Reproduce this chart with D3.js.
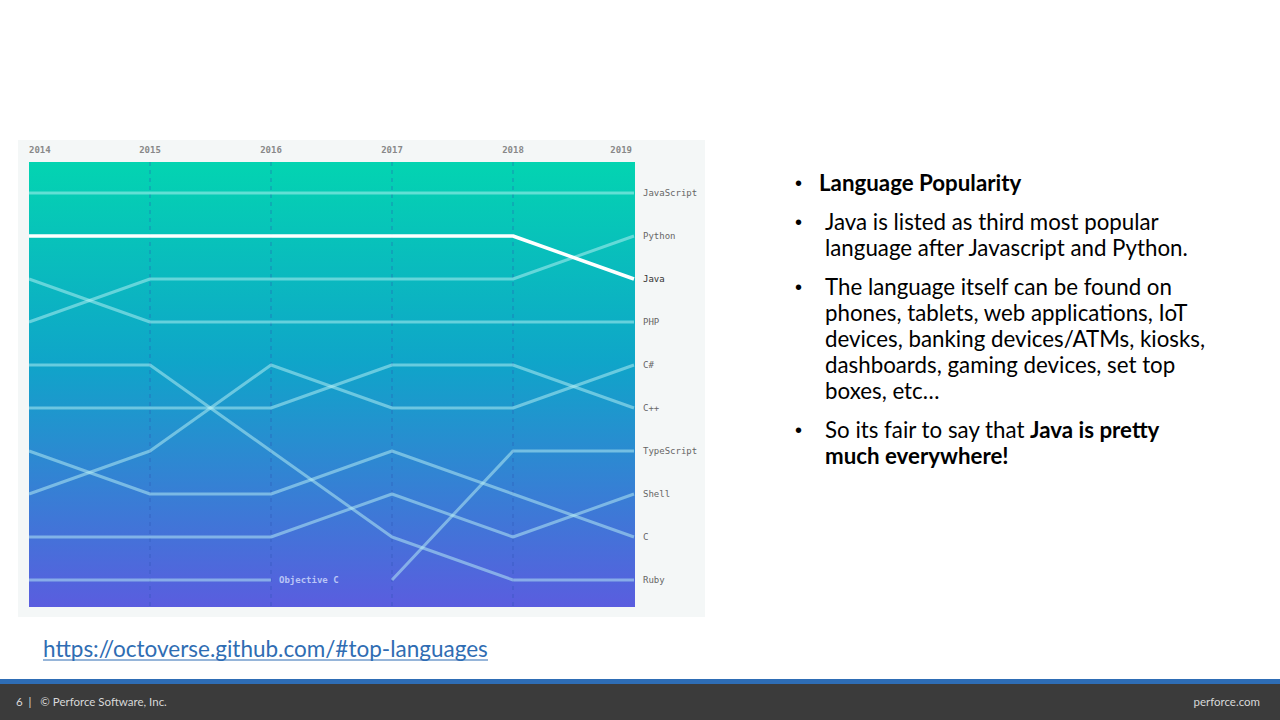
<!DOCTYPE html>
<html><head><meta charset="utf-8">
<script src="https://cdn.jsdelivr.net/npm/d3@7"></script>
<style>html,body{margin:0;padding:0;background:#fff;}svg{display:block;}</style>
</head><body>
<svg id="c" width="1280" height="720"></svg>
<script>
const years = [2014, 2015, 2016, 2017, 2018, 2019];
const languages = ["JavaScript","Java","Python","PHP","C#","C++","TypeScript","Shell","C","Ruby","Objective C"];
const rankJavaScript = [1,1,1,1,1,1];
const rankJava = [2,2,2,2,2,3];
const rankPython = [4,3,3,3,3,2];
const rankPHP = [3,4,4,4,4,4];
const rankCSharp = [8,7,5,6,6,5];
const rankCpp = [6,6,6,5,5,6];
const rankTypeScript = [null,null,null,10,7,7];
const rankShell = [9,9,9,8,9,8];
const rankC = [7,8,8,7,8,9];
const rankRuby = [5,5,7,9,10,10];
const rankObjectiveC = [10,10,10,null,null,null];
const rankTicks = [1,2,3,4,5,6,7,8,9,10];

const series = [
  {name:"JavaScript", r:rankJavaScript},
  {name:"Python", r:rankPython},
  {name:"PHP", r:rankPHP},
  {name:"C#", r:rankCSharp},
  {name:"C++", r:rankCpp},
  {name:"TypeScript", r:rankTypeScript},
  {name:"Shell", r:rankShell},
  {name:"C", r:rankC},
  {name:"Ruby", r:rankRuby},
  {name:"Objective C", r:rankObjectiveC},
  {name:"Java", r:rankJava, hl:true}
];

const svg = d3.select("#c");
const P = {l:29, r:635, t:162, b:607};
const x = d3.scalePoint().domain(years).range([P.l, 634]);
const y = d3.scaleLinear().domain([1,10]).range([193, 580]);

// panel
svg.append("rect").attr("x",18).attr("y",140).attr("width",687).attr("height",477).attr("fill","#f4f7f7");

const defs = svg.append("defs");
const g = defs.append("linearGradient").attr("id","bg").attr("x1",0).attr("y1",0).attr("x2",0).attr("y2",1);
g.append("stop").attr("offset","0%").attr("stop-color","#03d4b1");
g.append("stop").attr("offset","45%").attr("stop-color","#0fa5c9");
g.append("stop").attr("offset","100%").attr("stop-color","#5a5ddf");
svg.append("rect").attr("x",P.l).attr("y",P.t).attr("width",P.r-P.l).attr("height",P.b-P.t).attr("fill","url(#bg)");

// dashed year guides
svg.selectAll("line.grid").data(years.slice(1,5)).join("line")
  .attr("x1",d=>x(d)).attr("x2",d=>x(d)).attr("y1",P.t).attr("y2",P.b)
  .attr("stroke","#2a4fb0").attr("stroke-opacity",0.4).attr("stroke-width",1.2).attr("stroke-dasharray","4,4");

// year labels
svg.selectAll("text.yr").data(years).join("text")
  .attr("x",(d,i)=> i===0 ? P.l : (i===years.length-1 ? 632 : x(d)))
  .attr("y",153)
  .attr("text-anchor",(d,i)=> i===0 ? "start" : (i===years.length-1 ? "end" : "middle"))
  .attr("font-family","DejaVu Sans Mono").attr("font-size",9).attr("font-weight","bold")
  .attr("fill","#888").text(d=>d);

const line = d3.line().defined(d=>d.r!=null).x(d=>x(d.yr)).y(d=>y(d.r));
series.forEach(s=>{
  const pts = years.map((yr,i)=>({yr, r:s.r[i]}));
  svg.append("path").datum(pts).attr("d",line).attr("fill","none")
    .attr("stroke", s.hl ? "#ffffff" : "#bdf3f5")
    .attr("stroke-opacity", s.hl ? 1 : 0.5)
    .attr("stroke-width", s.hl ? 3.5 : 3)
    .attr("stroke-linejoin","round");
});

// right labels for 2019 ranks
const last = years.length-1;
series.filter(s=>s.r[last]!=null).forEach(s=>{
  svg.append("text").attr("x",643).attr("y",y(s.r[last])+3)
    .attr("font-family","DejaVu Sans Mono").attr("font-size",9)
    .attr("fill", s.hl ? "#333" : "#666").text(s.name);
});
// Objective C end label
const oc = series.find(s=>s.name==="Objective C");
let li = 0; oc.r.forEach((v,i)=>{ if(v!=null) li=i; });
svg.append("text").attr("x",x(years[li])+8).attr("y",y(oc.r[li])+3)
  .attr("font-family","DejaVu Sans Mono").attr("font-size",9).attr("font-weight","bold")
  .attr("fill","#dfe6ff").attr("fill-opacity",0.75).text("Objective C");

// link
svg.append("text").attr("x",43).attr("y",657).attr("font-family","Lato").attr("font-size",22.5)
  .attr("fill","#2f6db3").text("https://octoverse.github.com/#top-languages");
svg.append("line").attr("x1",43).attr("x2",488).attr("y1",660).attr("y2",660).attr("stroke","#2f6db3").attr("stroke-width",1.2);

// bullets
const tf = "Lato";
function bullet(yy){ svg.append("text").attr("x",795).attr("y",yy).attr("font-family","Liberation Sans").attr("font-size",20).attr("fill","#000").text("•"); }
const fs = 22.3;
bullet(190);
svg.append("text").attr("x",819).attr("y",191).attr("font-family",tf).attr("font-size",fs).attr("font-weight","bold").text("Language Popularity");
const blocks = [
  {y:230, lines:[["Java is listed as third most popular"],["language after Javascript and Python."]]},
  {y:295, lines:[["The language itself can be found on"],["phones, tablets, web applications, IoT"],["devices, banking devices/ATMs, kiosks,"],["dashboards, gaming devices, set top"],["boxes, etc…"]]},
];
blocks.forEach(b=>{
  bullet(b.y-1);
  b.lines.forEach((l,i)=>{
    svg.append("text").attr("x",825).attr("y",b.y+i*26).attr("font-family",tf).attr("font-size",fs).attr("fill","#000").text(l[0]);
  });
});
bullet(437);
const t1 = svg.append("text").attr("x",825).attr("y",438).attr("font-family",tf).attr("font-size",fs).attr("fill","#000");
t1.append("tspan").text("So its fair to say that ");
t1.append("tspan").attr("font-weight","bold").text("Java is pretty");
svg.append("text").attr("x",825).attr("y",464).attr("font-family",tf).attr("font-size",fs).attr("font-weight","bold").text("much everywhere!");

// footer
svg.append("rect").attr("x",0).attr("y",679).attr("width",1280).attr("height",5).attr("fill","#2e6db5");
svg.append("rect").attr("x",0).attr("y",684).attr("width",1280).attr("height",36).attr("fill","#3b3b3b");
svg.append("text").attr("x",16).attr("y",706).attr("font-family",tf).attr("font-size",11.5).attr("fill","#d8d8d8").attr("xml:space","preserve").style("white-space","pre").text("6  |   © Perforce Software, Inc.");
svg.append("text").attr("x",1260).attr("y",706).attr("text-anchor","end").attr("font-family",tf).attr("font-size",11.5).attr("fill","#d8d8d8").text("perforce.com");
</script>
</body></html>
